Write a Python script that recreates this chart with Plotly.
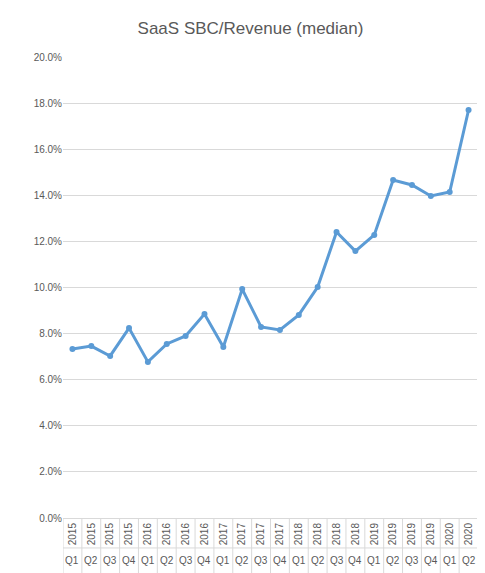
import plotly.graph_objects as go

years = ["2015"] * 4 + ["2016"] * 4 + ["2017"] * 4 + ["2018"] * 4 + ["2019"] * 4 + ["2020"] * 2
quarters = ["Q1", "Q2", "Q3", "Q4"] * 5 + ["Q1", "Q2"]
sbc_pct = [7.33, 7.46, 7.03, 8.24, 6.77, 7.55, 7.9, 8.85, 7.42, 9.93, 8.29, 8.16,
           8.81, 10.02, 12.41, 11.58, 12.28, 14.66, 14.45, 13.97, 14.14, 17.7]
y_ticks = [i * 2.0 for i in range(11)]

cats = [f"{y} {q}" for y, q in zip(years, quarters)]
grey = "#595959"

fig = go.Figure(go.Scatter(
    x=cats, y=sbc_pct, mode="lines+markers",
    line=dict(color="#5B9BD5", width=3),
    marker=dict(color="#5B9BD5", size=6),
))

# quarter row under the rotated years
for c, q in zip(cats, quarters):
    fig.add_annotation(x=c, y=-0.093, xref="x", yref="paper", text=q, showarrow=False,
                       font=dict(size=10, color=grey), yanchor="middle")
# category separators in label area
for i in range(len(cats) + 1):
    fig.add_shape(type="line", xref="x", yref="paper", x0=i - 0.5, x1=i - 0.5,
                  y0=0, y1=-0.13, line=dict(color="#D9D9D9", width=1))
fig.add_shape(type="line", xref="paper", yref="paper", x0=0, x1=1, y0=-0.065, y1=-0.065,
              line=dict(color="#D9D9D9", width=1))

fig.update_layout(
    width=485, height=573,
    margin=dict(l=55, r=15, t=49, b=63),
    title=dict(text="SaaS SBC/Revenue (median)", x=0.5, y=0.975, xanchor="center",
               font=dict(family="Liberation Sans", size=17, color=grey)),
    plot_bgcolor="white", paper_bgcolor="white",
    showlegend=False,
    font=dict(family="Liberation Sans", size=10, color=grey),
    xaxis=dict(type="category", tickvals=cats, ticktext=years, tickangle=-90,
               showgrid=False, showline=True, linecolor="#D9D9D9", ticks="",
               automargin=False,
               tickfont=dict(size=10, color=grey), range=[-0.5, len(cats) - 0.5]),
    yaxis=dict(range=[0, 20], tickvals=y_ticks,
               ticktext=[f"{v:.1f}%" for v in y_ticks],
               gridcolor="#D9D9D9", zeroline=False, ticks="", automargin=False,
               tickfont=dict(size=10, color=grey)),
)

fig.write_html("out.html")
